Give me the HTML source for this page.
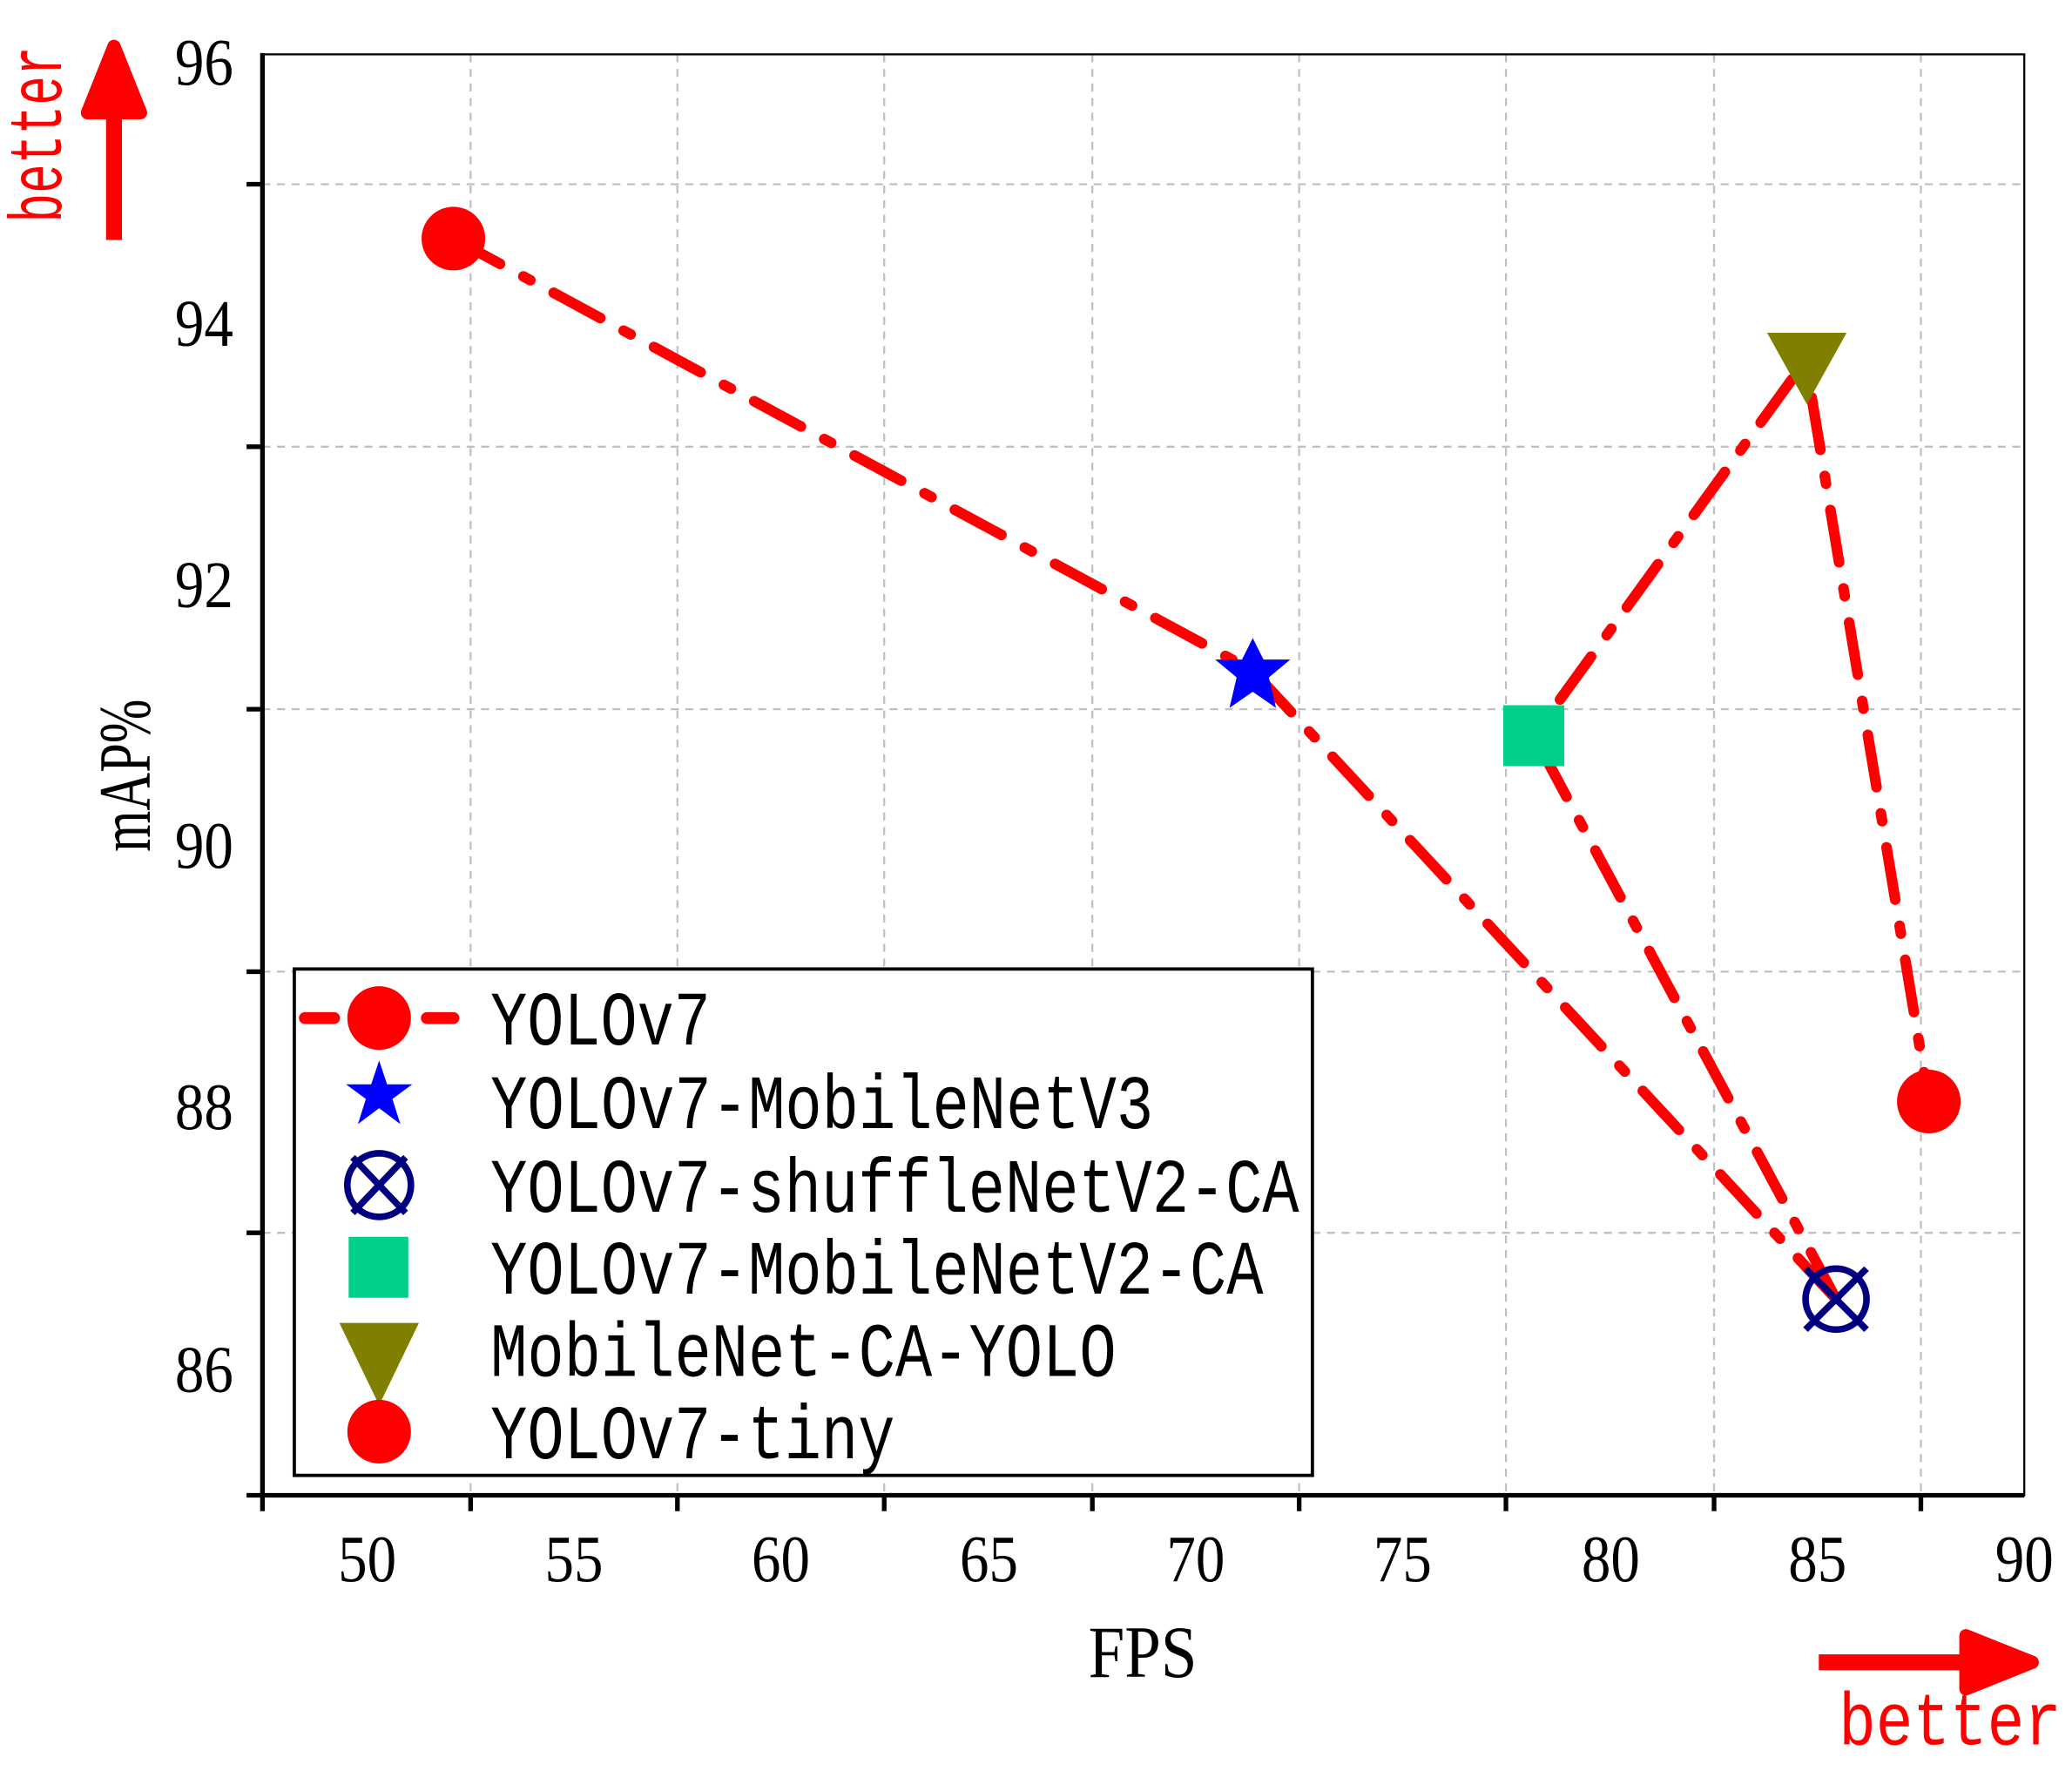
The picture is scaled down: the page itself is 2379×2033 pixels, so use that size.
<!DOCTYPE html>
<html><head><meta charset="utf-8"><style>html,body{margin:0;padding:0;background:#fff}svg{display:block}</style></head>
<body>
<svg width="2379" height="2033" viewBox="0 0 1563 1336" preserveAspectRatio="none" xmlns="http://www.w3.org/2000/svg">
<rect width="1563" height="1336" fill="#fff"/>
<g stroke="#c0c0c0" stroke-width="1.5" stroke-dasharray="6,5">
<line x1="355" y1="41" x2="355" y2="1128"/><line x1="511" y1="41" x2="511" y2="1128"/><line x1="667" y1="41" x2="667" y2="1128"/><line x1="824" y1="41" x2="824" y2="1128"/><line x1="980" y1="41" x2="980" y2="1128"/><line x1="1136" y1="41" x2="1136" y2="1128"/><line x1="1293" y1="41" x2="1293" y2="1128"/><line x1="1449" y1="41" x2="1449" y2="1128"/>
<line x1="198" y1="139" x2="1527" y2="139"/><line x1="198" y1="337" x2="1527" y2="337"/><line x1="198" y1="535" x2="1527" y2="535"/><line x1="198" y1="733" x2="1527" y2="733"/><line x1="198" y1="930" x2="1527" y2="930"/>
</g>
<rect x="198" y="41" width="1329" height="1087" fill="none" stroke="#000" stroke-width="1.5"/>
<line x1="198" y1="40" x2="198" y2="1130" stroke="#000" stroke-width="3.5"/>
<line x1="196" y1="1128" x2="1527" y2="1128" stroke="#000" stroke-width="3.5"/>
<g stroke="#000" stroke-width="3.5">
<line x1="186" y1="139" x2="198" y2="139"/><line x1="186" y1="337" x2="198" y2="337"/><line x1="186" y1="535" x2="198" y2="535"/><line x1="186" y1="733" x2="198" y2="733"/><line x1="186" y1="930" x2="198" y2="930"/><line x1="186" y1="1128" x2="198" y2="1128"/>
<line x1="198" y1="1128" x2="198" y2="1140"/><line x1="355" y1="1128" x2="355" y2="1140"/><line x1="511" y1="1128" x2="511" y2="1140"/><line x1="667" y1="1128" x2="667" y2="1140"/><line x1="824" y1="1128" x2="824" y2="1140"/><line x1="980" y1="1128" x2="980" y2="1140"/><line x1="1136" y1="1128" x2="1136" y2="1140"/><line x1="1293" y1="1128" x2="1293" y2="1140"/><line x1="1449" y1="1128" x2="1449" y2="1140"/>
</g>
<g font-family="Liberation Serif, serif" font-size="50" fill="#000" text-anchor="end">
<text x="176" y="64" textLength="44" lengthAdjust="spacingAndGlyphs">96</text>
<text x="176" y="261" textLength="44" lengthAdjust="spacingAndGlyphs">94</text>
<text x="176" y="458" textLength="44" lengthAdjust="spacingAndGlyphs">92</text>
<text x="176" y="655" textLength="44" lengthAdjust="spacingAndGlyphs">90</text>
<text x="176" y="852" textLength="44" lengthAdjust="spacingAndGlyphs">88</text>
<text x="176" y="1050" textLength="44" lengthAdjust="spacingAndGlyphs">86</text>
</g>
<g font-family="Liberation Serif, serif" font-size="50" fill="#000" text-anchor="middle">
<text x="277" y="1193" textLength="44" lengthAdjust="spacingAndGlyphs">50</text>
<text x="433" y="1193" textLength="44" lengthAdjust="spacingAndGlyphs">55</text>
<text x="589" y="1193" textLength="44" lengthAdjust="spacingAndGlyphs">60</text>
<text x="746" y="1193" textLength="44" lengthAdjust="spacingAndGlyphs">65</text>
<text x="902" y="1193" textLength="44" lengthAdjust="spacingAndGlyphs">70</text>
<text x="1058" y="1193" textLength="44" lengthAdjust="spacingAndGlyphs">75</text>
<text x="1215" y="1193" textLength="44" lengthAdjust="spacingAndGlyphs">80</text>
<text x="1371" y="1193" textLength="44" lengthAdjust="spacingAndGlyphs">85</text>
<text x="1527" y="1193" textLength="44" lengthAdjust="spacingAndGlyphs">90</text>
<text x="862" y="1265" font-size="56" textLength="82" lengthAdjust="spacingAndGlyphs">FPS</text>
<text transform="translate(113,585) rotate(-90)" font-size="56" textLength="115" lengthAdjust="spacingAndGlyphs">mAP%</text>
</g>
<g fill="none" stroke="#ff0000" stroke-width="8" stroke-dasharray="40,20,6,20" stroke-linecap="round">
<polyline points="342,180 945,506 1385,980"/>
<polyline points="1385,980 1157,555 1362,272 1455,831"/>
</g>
<circle cx="342" cy="180" r="24" fill="#ff0000"/>
<circle cx="1455" cy="831" r="24" fill="#ff0000"/>
<polygon points="945,488 951,500 966,500 954,510 958,527 945,518 932,527 936,510 924,500 939,500" transform="translate(945,507) scale(1.35) translate(-945,-507)" fill="#0000ff"/>
<rect x="1134" y="532" width="46" height="46" fill="#00d08a"/>
<polygon points="1333,251 1393,251 1363,305" fill="#808000"/>
<g stroke="#000080" stroke-width="5" fill="none"><circle cx="1385" cy="980" r="23"/><line x1="1362" y1="957" x2="1408" y2="1003"/><line x1="1408" y1="957" x2="1362" y2="1003"/></g>
<rect x="222" y="731" width="768" height="382" fill="#fff" stroke="#000" stroke-width="2.5"/>
<g stroke="#ff0000" stroke-width="9" stroke-linecap="round"><line x1="230" y1="768" x2="252" y2="768"/><line x1="322" y1="768" x2="342" y2="768"/></g>
<circle cx="286" cy="768" r="24" fill="#ff0000"/>
<polygon points="286,800 292,818 311,818 296,829 302,848 286,836 270,848 276,829 261,818 280,818" fill="#0000ff"/>
<g stroke="#000080" stroke-width="5" fill="none"><circle cx="286" cy="894" r="24"/><line x1="266" y1="873" x2="306" y2="915"/><line x1="306" y1="873" x2="266" y2="915"/></g>
<rect x="263" y="933" width="45" height="46" fill="#00d08a"/>
<polygon points="256,998 316,998 286,1060" fill="#808000"/>
<circle cx="286" cy="1080" r="24" fill="#ff0000"/>
<g font-family="Liberation Mono, monospace" font-size="58" fill="#000">
<text x="370" y="788" textLength="166" lengthAdjust="spacingAndGlyphs">YOLOv7</text>
<text x="370" y="851" textLength="500" lengthAdjust="spacingAndGlyphs">YOLOv7-MobileNetV3</text>
<text x="370" y="914" textLength="610" lengthAdjust="spacingAndGlyphs">YOLOv7-shuffleNetV2-CA</text>
<text x="370" y="976" textLength="583" lengthAdjust="spacingAndGlyphs">YOLOv7-MobileNetV2-CA</text>
<text x="370" y="1038" textLength="472" lengthAdjust="spacingAndGlyphs">MobileNet-CA-YOLO</text>
<text x="370" y="1100" textLength="305" lengthAdjust="spacingAndGlyphs">YOLOv7-tiny</text>
</g>
<g fill="#ff0000">
<rect x="80" y="70" width="12" height="111"/>
<polygon points="86,35 106,85 66,85" stroke="#ff0000" stroke-width="10" stroke-linejoin="round"/>
<rect x="1372" y="1248" width="130" height="12"/>
<polygon points="1533,1254 1483,1234 1483,1274" stroke="#ff0000" stroke-width="10" stroke-linejoin="round"/>
<text font-family="Liberation Mono, monospace" font-size="56" x="1387" y="1316" textLength="168" lengthAdjust="spacingAndGlyphs">better</text>
<text font-family="Liberation Mono, monospace" font-size="56" transform="translate(46,168) rotate(-90)" textLength="133" lengthAdjust="spacingAndGlyphs">better</text>
</g>
</svg>
</body></html>
